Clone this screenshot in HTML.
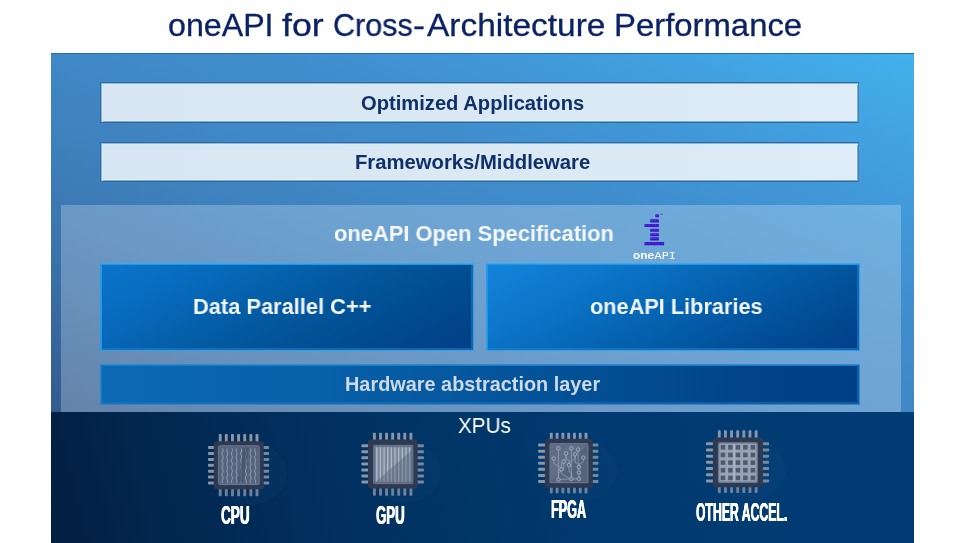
<!DOCTYPE html>
<html lang="en"><head><meta charset="utf-8"><title>oneAPI for Cross-Architecture Performance</title>
<style>
html,body{margin:0;padding:0;background:#fff;}
body{width:965px;height:543px;overflow:hidden;position:relative;font-family:"Liberation Sans",sans-serif;}
.t{position:absolute;white-space:nowrap;line-height:1;transform-origin:0 0;display:block;will-change:transform;}
.abs{position:absolute;box-sizing:border-box;}
.panel{left:51px;top:53px;width:863px;height:359px;
 background:linear-gradient(to top right,#335b8f 0%,#396ea6 18%,#3e7fbb 36%,#4088c6 50%,#408dcc 62%,#4197d7 75%,#42a4e3 88%,#42b1ec 100%);
 border-top:1px solid #1f6fb5;}
.lbox{left:100px;width:759px;height:41px;background:linear-gradient(90deg,#d7e6f2 0%,#dbe9f4 60%,#ddecf7 100%);
 border:1px solid #2f6aa3;border-right-color:#4a80b8;box-shadow:inset 1px 1px 0 #8fb6d8, inset 2px 2px 0 #d6effd, inset -1px -1px 0 #7fa8d0, inset -2px -2px 0 #e2f3fe;}
.spec{left:61.3px;top:204.5px;width:839.5px;height:207.2px;background:rgba(255,255,255,0.245);}
.dark{left:51px;top:411.6px;width:863px;height:131.4px;
 background:linear-gradient(76deg,#021f40 0%,#02244a 8%,#022a55 20%,#01305f 33%,#013567 46%,#00396e 60%,#003b72 78%,#003c74 100%);}
.bbox{top:263px;height:88px;border:1px solid;border-color:#3aaaf0 #3a9ddc #3a9ddc #2a9ae6;
 box-shadow:inset 1px 1px 0 #2197e6, inset -2px -2px 0 rgba(30,130,210,0.55);}
.dpc{left:100px;width:374px;background:linear-gradient(152deg,#0b75cb 0%,#0769ba 25%,#03599f 50%,#014b90 75%,#003f86 100%);}
.lib{left:486px;width:374px;background:linear-gradient(152deg,#1384db 0%,#0c76ca 25%,#0563b1 50%,#025099 75%,#003f88 100%);}
.hal{left:100px;top:364px;width:760px;height:41px;border:1px solid;border-color:#2b8cd6 #3585c8 #3d82ba #2586d0;
 box-shadow:inset 1px 1px 0 #1a7cc6, inset -2px -2px 0 rgba(30,120,200,0.5);
 background:linear-gradient(95deg,#0c69b3 0%,#0860a8 30%,#045197 60%,#014488 85%,#003f84 100%);}
</style></head><body>

<h1 style="margin:0;font-size:0">
<span class="t title" style="left:168.48px;top:9.70px;font-size:31.5px;font-weight:400;color:#0b2265;font-family:'Liberation Sans', sans-serif;transform:scaleX(1.0213);-webkit-text-stroke:0.3px #0b2265;">oneAPI</span>
<span class="t title" style="left:282.40px;top:9.70px;font-size:31.5px;font-weight:400;color:#0b2265;font-family:'Liberation Sans', sans-serif;transform:scaleX(1.1332);-webkit-text-stroke:0.3px #0b2265;">for</span>
<span class="t title" style="left:332.73px;top:9.70px;font-size:31.5px;font-weight:400;color:#0b2265;font-family:'Liberation Sans', sans-serif;transform:scaleX(0.9689);-webkit-text-stroke:0.3px #0b2265;">Cross</span>
<span class="t title" style="left:412.86px;top:9.70px;font-size:31.5px;font-weight:400;color:#0b2265;font-family:'Liberation Sans', sans-serif;transform:scaleX(1.1444);-webkit-text-stroke:0.3px #0b2265;">-</span>
<span class="t title" style="left:426.70px;top:9.70px;font-size:31.5px;font-weight:400;color:#0b2265;font-family:'Liberation Sans', sans-serif;transform:scaleX(1.0618);-webkit-text-stroke:0.3px #0b2265;">Architecture</span>
<span class="t title" style="left:613.91px;top:9.70px;font-size:31.5px;font-weight:400;color:#0b2265;font-family:'Liberation Sans', sans-serif;transform:scaleX(1.0433);-webkit-text-stroke:0.3px #0b2265;">Performance</span>
</h1>
<div class="abs panel"></div>
<div class="abs lbox" style="top:82px"></div>
<div class="abs lbox" style="top:142px;height:40px"></div>
<span class="t l1" style="left:360.70px;top:93.60px;font-size:19.5px;font-weight:700;color:#0f3068;font-family:'Liberation Sans', sans-serif;transform:scaleX(1.0335);">Optimized Applications</span>
<span class="t l2" style="left:354.75px;top:152.80px;font-size:19.3px;font-weight:700;color:#0f3068;font-family:'Liberation Sans', sans-serif;transform:scaleX(1.0505);">Frameworks/Middleware</span>
<div class="abs spec"></div>
<span class="t l3" style="left:334.30px;top:223.40px;font-size:22.2px;font-weight:700;color:#f4f8fc;font-family:'Liberation Sans', sans-serif;transform:scaleX(0.9869);">oneAPI Open Specification</span>
<div class="abs bbox dpc"></div>
<div class="abs bbox lib"></div>
<span class="t l4" style="left:193.02px;top:296.20px;font-size:22.3px;font-weight:700;color:#f2f6fa;font-family:'Liberation Sans', sans-serif;transform:scaleX(0.9792);">Data Parallel C++</span>
<span class="t l5" style="left:590.00px;top:296.00px;font-size:22.3px;font-weight:700;color:#f2f6fa;font-family:'Liberation Sans', sans-serif;transform:scaleX(0.9740);">oneAPI Libraries</span>
<div class="abs hal"></div>
<span class="t l6" style="left:344.97px;top:374.50px;font-size:19.3px;font-weight:700;color:#cdd9e6;font-family:'Liberation Sans', sans-serif;transform:scaleX(1.0306);">Hardware abstraction layer</span>
<div class="abs dark"></div>
<span class="t l7" style="left:457.80px;top:415.70px;font-size:21.5px;font-weight:400;color:#fff;font-family:'Liberation Sans', sans-serif;transform:scaleX(0.9611);">XPUs</span>
<svg class="abs" style="left:0;top:0" width="965" height="543" viewBox="0 0 965 543">
<rect x="655.3" y="214.15" width="3.6" height="3.1" rx="0.5" fill="#3c16c8"/>
<path d="M656.1 215.20 H658.4" stroke="#6a4cf0" stroke-width="0.9" stroke-dasharray="1.6 1.6" opacity="0.8"/>
<rect x="650.2" y="219.35" width="8.7" height="3.1" rx="0.5" fill="#3c16c8"/>
<path d="M651.0 220.40 H658.4" stroke="#6a4cf0" stroke-width="0.9" stroke-dasharray="1.6 1.6" opacity="0.8"/>
<rect x="644.5" y="223.95" width="14.4" height="3.1" rx="0.5" fill="#3c16c8"/>
<path d="M645.3 225.00 H658.4" stroke="#6a4cf0" stroke-width="0.9" stroke-dasharray="1.6 1.6" opacity="0.8"/>
<rect x="650.2" y="228.65" width="8.7" height="3.1" rx="0.5" fill="#3c16c8"/>
<path d="M651.0 229.70 H658.4" stroke="#6a4cf0" stroke-width="0.9" stroke-dasharray="1.6 1.6" opacity="0.8"/>
<rect x="650.2" y="233.25" width="8.7" height="3.1" rx="0.5" fill="#3c16c8"/>
<path d="M651.0 234.30 H658.4" stroke="#6a4cf0" stroke-width="0.9" stroke-dasharray="1.6 1.6" opacity="0.8"/>
<rect x="650.2" y="237.35" width="8.7" height="3.1" rx="0.5" fill="#3c16c8"/>
<path d="M651.0 238.40 H658.4" stroke="#6a4cf0" stroke-width="0.9" stroke-dasharray="1.6 1.6" opacity="0.8"/>
<rect x="644.5" y="242.05" width="19.6" height="3.1" rx="0.5" fill="#3c16c8"/>
<path d="M645.3 243.10 H663.6" stroke="#6a4cf0" stroke-width="0.9" stroke-dasharray="1.6 1.6" opacity="0.8"/>
<path d="M660.5 214.3 h2.2" stroke="#3c16c8" stroke-width="0.7"/>
<ellipse cx="250.8" cy="473.3" rx="36" ry="31" fill="#2a5a8e" opacity="0.10"/>
<rect x="218.75" y="434.00" width="2.9" height="9.3" rx="0.8" fill="#8c95a5"/>
<rect x="218.75" y="487.30" width="2.9" height="8.9" rx="0.8" fill="#8c95a5" opacity="0.8"/>
<rect x="224.88" y="434.00" width="2.9" height="9.3" rx="0.8" fill="#8c95a5"/>
<rect x="224.88" y="487.30" width="2.9" height="8.9" rx="0.8" fill="#8c95a5" opacity="0.8"/>
<rect x="231.02" y="434.00" width="2.9" height="9.3" rx="0.8" fill="#8c95a5"/>
<rect x="231.02" y="487.30" width="2.9" height="8.9" rx="0.8" fill="#8c95a5" opacity="0.8"/>
<rect x="237.15" y="434.00" width="2.9" height="9.3" rx="0.8" fill="#8c95a5"/>
<rect x="237.15" y="487.30" width="2.9" height="8.9" rx="0.8" fill="#8c95a5" opacity="0.8"/>
<rect x="243.28" y="434.00" width="2.9" height="9.3" rx="0.8" fill="#8c95a5"/>
<rect x="243.28" y="487.30" width="2.9" height="8.9" rx="0.8" fill="#8c95a5" opacity="0.8"/>
<rect x="249.42" y="434.00" width="2.9" height="9.3" rx="0.8" fill="#8c95a5"/>
<rect x="249.42" y="487.30" width="2.9" height="8.9" rx="0.8" fill="#8c95a5" opacity="0.8"/>
<rect x="255.55" y="434.00" width="2.9" height="9.3" rx="0.8" fill="#8c95a5"/>
<rect x="255.55" y="487.30" width="2.9" height="8.9" rx="0.8" fill="#8c95a5" opacity="0.8"/>
<rect x="208.00" y="446.10" width="7.8" height="3" rx="0.8" fill="#8c95a5"/>
<rect x="261.80" y="446.10" width="7.4" height="3" rx="0.8" fill="#8c95a5" opacity="0.85"/>
<rect x="208.00" y="452.00" width="7.8" height="3" rx="0.8" fill="#8c95a5"/>
<rect x="261.80" y="452.00" width="7.4" height="3" rx="0.8" fill="#8c95a5" opacity="0.85"/>
<rect x="208.00" y="457.90" width="7.8" height="3" rx="0.8" fill="#8c95a5"/>
<rect x="261.80" y="457.90" width="7.4" height="3" rx="0.8" fill="#8c95a5" opacity="0.85"/>
<rect x="208.00" y="463.80" width="7.8" height="3" rx="0.8" fill="#8c95a5"/>
<rect x="261.80" y="463.80" width="7.4" height="3" rx="0.8" fill="#8c95a5" opacity="0.85"/>
<rect x="208.00" y="469.70" width="7.8" height="3" rx="0.8" fill="#8c95a5"/>
<rect x="261.80" y="469.70" width="7.4" height="3" rx="0.8" fill="#8c95a5" opacity="0.85"/>
<rect x="208.00" y="475.60" width="7.8" height="3" rx="0.8" fill="#8c95a5"/>
<rect x="261.80" y="475.60" width="7.4" height="3" rx="0.8" fill="#8c95a5" opacity="0.85"/>
<rect x="208.00" y="481.50" width="7.8" height="3" rx="0.8" fill="#8c95a5"/>
<rect x="261.80" y="481.50" width="7.4" height="3" rx="0.8" fill="#8c95a5" opacity="0.85"/>
<rect x="213.80" y="441.30" width="50" height="48" rx="2.5" fill="#2e3a51"/>
<rect x="218.60" y="445.80" width="40.60" height="38.70" rx="0.8" fill="#55637c" stroke="#6f7e97" stroke-width="0.9"/>
<path d="M222.60 448.30 q1.2 1.75 0 3.5 q-1.2 1.75 0 3.5 q1.2 1.75 0 3.5 q-1.2 1.75 0 3.5 q1.2 1.75 0 3.5 q-1.2 1.75 0 3.5 q1.2 1.75 0 3.5 q-1.2 1.75 0 3.5 q1.2 1.75 0 3.5 q-1.2 1.75 0 3.5" fill="none" stroke="#a9b4c5" stroke-width="0.9" opacity="0.8"/>
<path d="M227.26 448.30 q-1.2 1.75 0 3.5 q1.2 1.75 0 3.5 q-1.2 1.75 0 3.5 q1.2 1.75 0 3.5 q-1.2 1.75 0 3.5 q1.2 1.75 0 3.5 q-1.2 1.75 0 3.5 q1.2 1.75 0 3.5 q-1.2 1.75 0 3.5 q1.2 1.75 0 3.5" fill="none" stroke="#a9b4c5" stroke-width="0.9" opacity="0.8"/>
<path d="M231.91 448.30 q1.2 1.75 0 3.5 q-1.2 1.75 0 3.5 q1.2 1.75 0 3.5 q-1.2 1.75 0 3.5 q1.2 1.75 0 3.5 q-1.2 1.75 0 3.5 q1.2 1.75 0 3.5 q-1.2 1.75 0 3.5 q1.2 1.75 0 3.5 q-1.2 1.75 0 3.5" fill="none" stroke="#a9b4c5" stroke-width="0.9" opacity="0.8"/>
<path d="M236.57 448.30 q-1.2 1.75 0 3.5 q1.2 1.75 0 3.5 q-1.2 1.75 0 3.5 q1.2 1.75 0 3.5 q-1.2 1.75 0 3.5 q1.2 1.75 0 3.5 q-1.2 1.75 0 3.5 q1.2 1.75 0 3.5 q-1.2 1.75 0 3.5 q1.2 1.75 0 3.5" fill="none" stroke="#a9b4c5" stroke-width="0.9" opacity="0.8"/>
<path d="M241.23 448.30 q1.2 1.75 0 3.5 q-1.2 1.75 0 3.5 q1.2 1.75 0 3.5 q-1.2 1.75 0 3.5 q1.2 1.75 0 3.5 q-1.2 1.75 0 3.5 q1.2 1.75 0 3.5 q-1.2 1.75 0 3.5 q1.2 1.75 0 3.5 q-1.2 1.75 0 3.5" fill="none" stroke="#a9b4c5" stroke-width="0.9" opacity="0.8"/>
<path d="M245.89 448.30 q-1.2 1.75 0 3.5 q1.2 1.75 0 3.5 q-1.2 1.75 0 3.5 q1.2 1.75 0 3.5 q-1.2 1.75 0 3.5 q1.2 1.75 0 3.5 q-1.2 1.75 0 3.5 q1.2 1.75 0 3.5 q-1.2 1.75 0 3.5 q1.2 1.75 0 3.5" fill="none" stroke="#a9b4c5" stroke-width="0.9" opacity="0.8"/>
<path d="M250.54 448.30 q1.2 1.75 0 3.5 q-1.2 1.75 0 3.5 q1.2 1.75 0 3.5 q-1.2 1.75 0 3.5 q1.2 1.75 0 3.5 q-1.2 1.75 0 3.5 q1.2 1.75 0 3.5 q-1.2 1.75 0 3.5 q1.2 1.75 0 3.5 q-1.2 1.75 0 3.5" fill="none" stroke="#a9b4c5" stroke-width="0.9" opacity="0.8"/>
<path d="M255.20 448.30 q-1.2 1.75 0 3.5 q1.2 1.75 0 3.5 q-1.2 1.75 0 3.5 q1.2 1.75 0 3.5 q-1.2 1.75 0 3.5 q1.2 1.75 0 3.5 q-1.2 1.75 0 3.5 q1.2 1.75 0 3.5 q-1.2 1.75 0 3.5 q1.2 1.75 0 3.5" fill="none" stroke="#a9b4c5" stroke-width="0.9" opacity="0.8"/>
<path d="M243.77 447.80 L248.64 447.80 L242.96 482.50 L238.09 482.50 Z" fill="#3b4860" opacity="0.5"/>
<ellipse cx="404.9" cy="471.9" rx="36" ry="31" fill="#2a5a8e" opacity="0.10"/>
<rect x="372.95" y="432.80" width="2.9" height="8.6" rx="0.8" fill="#8c95a5"/>
<rect x="372.95" y="486.40" width="2.9" height="9.3" rx="0.8" fill="#8c95a5" opacity="0.8"/>
<rect x="379.03" y="432.80" width="2.9" height="8.6" rx="0.8" fill="#8c95a5"/>
<rect x="379.03" y="486.40" width="2.9" height="9.3" rx="0.8" fill="#8c95a5" opacity="0.8"/>
<rect x="385.12" y="432.80" width="2.9" height="8.6" rx="0.8" fill="#8c95a5"/>
<rect x="385.12" y="486.40" width="2.9" height="9.3" rx="0.8" fill="#8c95a5" opacity="0.8"/>
<rect x="391.20" y="432.80" width="2.9" height="8.6" rx="0.8" fill="#8c95a5"/>
<rect x="391.20" y="486.40" width="2.9" height="9.3" rx="0.8" fill="#8c95a5" opacity="0.8"/>
<rect x="397.28" y="432.80" width="2.9" height="8.6" rx="0.8" fill="#8c95a5"/>
<rect x="397.28" y="486.40" width="2.9" height="9.3" rx="0.8" fill="#8c95a5" opacity="0.8"/>
<rect x="403.37" y="432.80" width="2.9" height="8.6" rx="0.8" fill="#8c95a5"/>
<rect x="403.37" y="486.40" width="2.9" height="9.3" rx="0.8" fill="#8c95a5" opacity="0.8"/>
<rect x="409.45" y="432.80" width="2.9" height="8.6" rx="0.8" fill="#8c95a5"/>
<rect x="409.45" y="486.40" width="2.9" height="9.3" rx="0.8" fill="#8c95a5" opacity="0.8"/>
<rect x="361.40" y="444.20" width="8.6" height="3" rx="0.8" fill="#8c95a5"/>
<rect x="415.70" y="444.20" width="8.2" height="3" rx="0.8" fill="#8c95a5" opacity="0.85"/>
<rect x="361.40" y="450.27" width="8.6" height="3" rx="0.8" fill="#8c95a5"/>
<rect x="415.70" y="450.27" width="8.2" height="3" rx="0.8" fill="#8c95a5" opacity="0.85"/>
<rect x="361.40" y="456.33" width="8.6" height="3" rx="0.8" fill="#8c95a5"/>
<rect x="415.70" y="456.33" width="8.2" height="3" rx="0.8" fill="#8c95a5" opacity="0.85"/>
<rect x="361.40" y="462.40" width="8.6" height="3" rx="0.8" fill="#8c95a5"/>
<rect x="415.70" y="462.40" width="8.2" height="3" rx="0.8" fill="#8c95a5" opacity="0.85"/>
<rect x="361.40" y="468.47" width="8.6" height="3" rx="0.8" fill="#8c95a5"/>
<rect x="415.70" y="468.47" width="8.2" height="3" rx="0.8" fill="#8c95a5" opacity="0.85"/>
<rect x="361.40" y="474.53" width="8.6" height="3" rx="0.8" fill="#8c95a5"/>
<rect x="415.70" y="474.53" width="8.2" height="3" rx="0.8" fill="#8c95a5" opacity="0.85"/>
<rect x="361.40" y="480.60" width="8.6" height="3" rx="0.8" fill="#8c95a5"/>
<rect x="415.70" y="480.60" width="8.2" height="3" rx="0.8" fill="#8c95a5" opacity="0.85"/>
<rect x="368.00" y="439.40" width="49.7" height="49" rx="2.5" fill="#2e3a51"/>
<rect x="373.60" y="445.40" width="39.20" height="38.20" rx="0.8" fill="#55637c" stroke="#6f7e97" stroke-width="0.9"/>
<rect x="374.80" y="446.60" width="36.80" height="35.80" fill="#7a8799"/>
<rect x="376.10" y="447.40" width="1.4" height="34.20" fill="#b4bdcb" opacity="0.9"/>
<rect x="379.74" y="447.40" width="1.4" height="34.20" fill="#b4bdcb" opacity="0.9"/>
<rect x="383.39" y="447.40" width="1.4" height="34.20" fill="#b4bdcb" opacity="0.9"/>
<rect x="387.03" y="447.40" width="1.4" height="34.20" fill="#b4bdcb" opacity="0.9"/>
<rect x="390.68" y="447.40" width="1.4" height="34.20" fill="#b4bdcb" opacity="0.9"/>
<rect x="394.32" y="447.40" width="1.4" height="34.20" fill="#b4bdcb" opacity="0.9"/>
<rect x="397.97" y="447.40" width="1.4" height="34.20" fill="#b4bdcb" opacity="0.9"/>
<rect x="401.61" y="447.40" width="1.4" height="34.20" fill="#b4bdcb" opacity="0.9"/>
<rect x="405.26" y="447.40" width="1.4" height="34.20" fill="#b4bdcb" opacity="0.9"/>
<rect x="408.90" y="447.40" width="1.4" height="34.20" fill="#b4bdcb" opacity="0.9"/>
<path d="M374.80 482.40 L411.60 450.40 L411.60 482.40 Z" fill="#4d5a70" opacity="0.38"/>
<ellipse cx="580.9" cy="471.3" rx="36" ry="31" fill="#2a5a8e" opacity="0.10"/>
<rect x="549.85" y="432.80" width="2.9" height="8" rx="0.8" fill="#8c95a5"/>
<rect x="549.85" y="485.80" width="2.9" height="7.6" rx="0.8" fill="#8c95a5" opacity="0.8"/>
<rect x="555.63" y="432.80" width="2.9" height="8" rx="0.8" fill="#8c95a5"/>
<rect x="555.63" y="485.80" width="2.9" height="7.6" rx="0.8" fill="#8c95a5" opacity="0.8"/>
<rect x="561.42" y="432.80" width="2.9" height="8" rx="0.8" fill="#8c95a5"/>
<rect x="561.42" y="485.80" width="2.9" height="7.6" rx="0.8" fill="#8c95a5" opacity="0.8"/>
<rect x="567.20" y="432.80" width="2.9" height="8" rx="0.8" fill="#8c95a5"/>
<rect x="567.20" y="485.80" width="2.9" height="7.6" rx="0.8" fill="#8c95a5" opacity="0.8"/>
<rect x="572.98" y="432.80" width="2.9" height="8" rx="0.8" fill="#8c95a5"/>
<rect x="572.98" y="485.80" width="2.9" height="7.6" rx="0.8" fill="#8c95a5" opacity="0.8"/>
<rect x="578.77" y="432.80" width="2.9" height="8" rx="0.8" fill="#8c95a5"/>
<rect x="578.77" y="485.80" width="2.9" height="7.6" rx="0.8" fill="#8c95a5" opacity="0.8"/>
<rect x="584.55" y="432.80" width="2.9" height="8" rx="0.8" fill="#8c95a5"/>
<rect x="584.55" y="485.80" width="2.9" height="7.6" rx="0.8" fill="#8c95a5" opacity="0.8"/>
<rect x="538.10" y="443.60" width="8.8" height="3" rx="0.8" fill="#8c95a5"/>
<rect x="590.80" y="443.60" width="7.6" height="3" rx="0.8" fill="#8c95a5" opacity="0.85"/>
<rect x="538.10" y="449.67" width="8.8" height="3" rx="0.8" fill="#8c95a5"/>
<rect x="590.80" y="449.67" width="7.6" height="3" rx="0.8" fill="#8c95a5" opacity="0.85"/>
<rect x="538.10" y="455.73" width="8.8" height="3" rx="0.8" fill="#8c95a5"/>
<rect x="590.80" y="455.73" width="7.6" height="3" rx="0.8" fill="#8c95a5" opacity="0.85"/>
<rect x="538.10" y="461.80" width="8.8" height="3" rx="0.8" fill="#8c95a5"/>
<rect x="590.80" y="461.80" width="7.6" height="3" rx="0.8" fill="#8c95a5" opacity="0.85"/>
<rect x="538.10" y="467.87" width="8.8" height="3" rx="0.8" fill="#8c95a5"/>
<rect x="590.80" y="467.87" width="7.6" height="3" rx="0.8" fill="#8c95a5" opacity="0.85"/>
<rect x="538.10" y="473.93" width="8.8" height="3" rx="0.8" fill="#8c95a5"/>
<rect x="590.80" y="473.93" width="7.6" height="3" rx="0.8" fill="#8c95a5" opacity="0.85"/>
<rect x="538.10" y="480.00" width="8.8" height="3" rx="0.8" fill="#8c95a5"/>
<rect x="590.80" y="480.00" width="7.6" height="3" rx="0.8" fill="#8c95a5" opacity="0.85"/>
<rect x="544.90" y="438.80" width="47.9" height="49" rx="2.5" fill="#2e3a51"/>
<rect x="550.00" y="443.60" width="38.00" height="39.10" rx="0.8" fill="#55637c" stroke="#6f7e97" stroke-width="0.9"/>
<path d="M550.60 444.20 H587.40 L550.60 482.10 Z" fill="#7e8ba2" opacity="0.25"/>
<path d="M558.4 448.3 L558.4 462.4 L558.4 462.4 L558.4 479.6" fill="none" stroke="#a3aec0" stroke-width="0.8" opacity="0.75"/>
<path d="M571.3 448.3 L571.3 462.0 L571.3 462.0 L571.3 478.8" fill="none" stroke="#a3aec0" stroke-width="0.8" opacity="0.75"/>
<path d="M578.1 449.5 L578.1 462.7 L578.9 463.1 L578.9 478.8" fill="none" stroke="#a3aec0" stroke-width="0.8" opacity="0.75"/>
<path d="M553.8 458.5 L553.8 463.4 L561.4 467.9 L561.4 469.4" fill="none" stroke="#a3aec0" stroke-width="0.8" opacity="0.75"/>
<path d="M583.4 457.7 L583.4 461.9 L578.9 464.6 L578.9 467.1" fill="none" stroke="#a3aec0" stroke-width="0.8" opacity="0.75"/>
<path d="M566.0 453.4 L566.0 458.7 L569.0 460.5 L569.0 465.1" fill="none" stroke="#a3aec0" stroke-width="0.8" opacity="0.75"/>
<path d="M575.1 454.2 L575.1 462.4 L578.9 464.7 L578.9 472.5" fill="none" stroke="#a3aec0" stroke-width="0.8" opacity="0.75"/>
<path d="M569.0 465.1 L569.0 471.3 L571.3 472.6 L571.3 478.8" fill="none" stroke="#a3aec0" stroke-width="0.8" opacity="0.75"/>
<path d="M563.7 461.6 L563.7 469.7 L558.4 472.9 L558.4 479.6" fill="none" stroke="#a3aec0" stroke-width="0.8" opacity="0.75"/>
<path d="M561.4 469.4 L561.4 473.6 L571.3 479.6 L571.3 478.8" fill="none" stroke="#a3aec0" stroke-width="0.8" opacity="0.75"/>
<path d="M566.0 453.4 L566.0 460.6 L561.4 463.3 L561.4 469.4" fill="none" stroke="#a3aec0" stroke-width="0.8" opacity="0.75"/>
<path d="M575.1 454.2 L575.1 459.1 L569.0 462.7 L569.0 465.1" fill="none" stroke="#a3aec0" stroke-width="0.8" opacity="0.75"/>
<path d="M558.4 479.6 L571.3 478.8" fill="none" stroke="#a3aec0" stroke-width="0.8" opacity="0.75"/>
<path d="M571.3 478.8 L578.9 478.8" fill="none" stroke="#a3aec0" stroke-width="0.8" opacity="0.75"/>
<circle cx="558.4" cy="448.3" r="1.8" fill="#606f88" stroke="#a9b4c5" stroke-width="0.8"/>
<circle cx="571.3" cy="448.3" r="1.8" fill="#606f88" stroke="#a9b4c5" stroke-width="0.8"/>
<circle cx="578.1" cy="449.5" r="1.8" fill="#606f88" stroke="#a9b4c5" stroke-width="0.8"/>
<circle cx="553.8" cy="458.5" r="1.8" fill="#606f88" stroke="#a9b4c5" stroke-width="0.8"/>
<circle cx="583.4" cy="457.7" r="1.8" fill="#606f88" stroke="#a9b4c5" stroke-width="0.8"/>
<circle cx="566.0" cy="453.4" r="1.8" fill="#606f88" stroke="#a9b4c5" stroke-width="0.8"/>
<circle cx="575.1" cy="454.2" r="1.8" fill="#606f88" stroke="#a9b4c5" stroke-width="0.8"/>
<circle cx="578.9" cy="467.1" r="1.8" fill="#606f88" stroke="#a9b4c5" stroke-width="0.8"/>
<circle cx="578.9" cy="472.5" r="1.8" fill="#606f88" stroke="#a9b4c5" stroke-width="0.8"/>
<circle cx="578.9" cy="478.8" r="1.8" fill="#606f88" stroke="#a9b4c5" stroke-width="0.8"/>
<circle cx="571.3" cy="478.8" r="1.8" fill="#606f88" stroke="#a9b4c5" stroke-width="0.8"/>
<circle cx="558.4" cy="479.6" r="1.8" fill="#606f88" stroke="#a9b4c5" stroke-width="0.8"/>
<circle cx="561.4" cy="469.4" r="1.8" fill="#606f88" stroke="#a9b4c5" stroke-width="0.8"/>
<circle cx="569.0" cy="465.1" r="1.8" fill="#606f88" stroke="#a9b4c5" stroke-width="0.8"/>
<circle cx="563.7" cy="461.6" r="1.8" fill="#606f88" stroke="#a9b4c5" stroke-width="0.8"/>
<ellipse cx="749.9" cy="470.4" rx="36" ry="31" fill="#2a5a8e" opacity="0.10"/>
<rect x="717.85" y="430.30" width="2.9" height="9.2" rx="0.8" fill="#8c95a5"/>
<rect x="717.85" y="485.20" width="2.9" height="7.9" rx="0.8" fill="#8c95a5" opacity="0.8"/>
<rect x="723.98" y="430.30" width="2.9" height="9.2" rx="0.8" fill="#8c95a5"/>
<rect x="723.98" y="485.20" width="2.9" height="7.9" rx="0.8" fill="#8c95a5" opacity="0.8"/>
<rect x="730.12" y="430.30" width="2.9" height="9.2" rx="0.8" fill="#8c95a5"/>
<rect x="730.12" y="485.20" width="2.9" height="7.9" rx="0.8" fill="#8c95a5" opacity="0.8"/>
<rect x="736.25" y="430.30" width="2.9" height="9.2" rx="0.8" fill="#8c95a5"/>
<rect x="736.25" y="485.20" width="2.9" height="7.9" rx="0.8" fill="#8c95a5" opacity="0.8"/>
<rect x="742.38" y="430.30" width="2.9" height="9.2" rx="0.8" fill="#8c95a5"/>
<rect x="742.38" y="485.20" width="2.9" height="7.9" rx="0.8" fill="#8c95a5" opacity="0.8"/>
<rect x="748.52" y="430.30" width="2.9" height="9.2" rx="0.8" fill="#8c95a5"/>
<rect x="748.52" y="485.20" width="2.9" height="7.9" rx="0.8" fill="#8c95a5" opacity="0.8"/>
<rect x="754.65" y="430.30" width="2.9" height="9.2" rx="0.8" fill="#8c95a5"/>
<rect x="754.65" y="485.20" width="2.9" height="7.9" rx="0.8" fill="#8c95a5" opacity="0.8"/>
<rect x="706.00" y="442.30" width="8.9" height="3" rx="0.8" fill="#8c95a5"/>
<rect x="760.90" y="442.30" width="8.2" height="3" rx="0.8" fill="#8c95a5" opacity="0.85"/>
<rect x="706.00" y="448.48" width="8.9" height="3" rx="0.8" fill="#8c95a5"/>
<rect x="760.90" y="448.48" width="8.2" height="3" rx="0.8" fill="#8c95a5" opacity="0.85"/>
<rect x="706.00" y="454.67" width="8.9" height="3" rx="0.8" fill="#8c95a5"/>
<rect x="760.90" y="454.67" width="8.2" height="3" rx="0.8" fill="#8c95a5" opacity="0.85"/>
<rect x="706.00" y="460.85" width="8.9" height="3" rx="0.8" fill="#8c95a5"/>
<rect x="760.90" y="460.85" width="8.2" height="3" rx="0.8" fill="#8c95a5" opacity="0.85"/>
<rect x="706.00" y="467.03" width="8.9" height="3" rx="0.8" fill="#8c95a5"/>
<rect x="760.90" y="467.03" width="8.2" height="3" rx="0.8" fill="#8c95a5" opacity="0.85"/>
<rect x="706.00" y="473.22" width="8.9" height="3" rx="0.8" fill="#8c95a5"/>
<rect x="760.90" y="473.22" width="8.2" height="3" rx="0.8" fill="#8c95a5" opacity="0.85"/>
<rect x="706.00" y="479.40" width="8.9" height="3" rx="0.8" fill="#8c95a5"/>
<rect x="760.90" y="479.40" width="8.2" height="3" rx="0.8" fill="#8c95a5" opacity="0.85"/>
<rect x="712.90" y="437.50" width="50" height="49.7" rx="2.5" fill="#2e3a51"/>
<rect x="718.40" y="442.70" width="39.00" height="39.80" rx="0.8" fill="#55637c" stroke="#6f7e97" stroke-width="0.9"/>
<rect x="719.20" y="443.50" width="37.40" height="38.20" fill="#98a3b4"/>
<rect x="720.70" y="445.03" width="4.49" height="4.58" fill="#4d5a72"/>
<rect x="728.18" y="445.03" width="4.49" height="4.58" fill="#4d5a72"/>
<rect x="735.66" y="445.03" width="4.49" height="4.58" fill="#4d5a72"/>
<rect x="743.14" y="445.03" width="4.49" height="4.58" fill="#4d5a72"/>
<rect x="750.62" y="445.03" width="4.49" height="4.58" fill="#4d5a72"/>
<rect x="720.70" y="452.67" width="4.49" height="4.58" fill="#4d5a72"/>
<rect x="728.18" y="452.67" width="4.49" height="4.58" fill="#4d5a72"/>
<rect x="735.66" y="452.67" width="4.49" height="4.58" fill="#4d5a72"/>
<rect x="743.14" y="452.67" width="4.49" height="4.58" fill="#4d5a72"/>
<rect x="750.62" y="452.67" width="4.49" height="4.58" fill="#4d5a72"/>
<rect x="720.70" y="460.31" width="4.49" height="4.58" fill="#4d5a72"/>
<rect x="728.18" y="460.31" width="4.49" height="4.58" fill="#4d5a72"/>
<rect x="735.66" y="460.31" width="4.49" height="4.58" fill="#4d5a72"/>
<rect x="743.14" y="460.31" width="4.49" height="4.58" fill="#4d5a72"/>
<rect x="750.62" y="460.31" width="4.49" height="4.58" fill="#4d5a72"/>
<rect x="720.70" y="467.95" width="4.49" height="4.58" fill="#4d5a72"/>
<rect x="728.18" y="467.95" width="4.49" height="4.58" fill="#4d5a72"/>
<rect x="735.66" y="467.95" width="4.49" height="4.58" fill="#4d5a72"/>
<rect x="743.14" y="467.95" width="4.49" height="4.58" fill="#4d5a72"/>
<rect x="750.62" y="467.95" width="4.49" height="4.58" fill="#4d5a72"/>
<rect x="720.70" y="475.59" width="4.49" height="4.58" fill="#4d5a72"/>
<rect x="728.18" y="475.59" width="4.49" height="4.58" fill="#4d5a72"/>
<rect x="735.66" y="475.59" width="4.49" height="4.58" fill="#4d5a72"/>
<rect x="743.14" y="475.59" width="4.49" height="4.58" fill="#4d5a72"/>
<rect x="750.62" y="475.59" width="4.49" height="4.58" fill="#4d5a72"/>
<path d="M734.16 443.70 v37.80" stroke="#c3cbd7" stroke-width="0.7"/>
</svg>
<span class="t c1" style="left:221.09px;top:502.00px;font-size:26.4px;font-weight:700;color:#fff;font-family:'Liberation Sans', sans-serif;transform:scaleX(0.5143);text-shadow:0.8px 0 0 #fff,-0.8px 0 0 #fff;">CPU</span>
<span class="t c2" style="left:376.40px;top:502.00px;font-size:26.4px;font-weight:700;color:#fff;font-family:'Liberation Sans', sans-serif;transform:scaleX(0.5006);text-shadow:0.8px 0 0 #fff,-0.8px 0 0 #fff;">GPU</span>
<span class="t c3" style="left:551.12px;top:496.00px;font-size:26.4px;font-weight:700;color:#fff;font-family:'Liberation Sans', sans-serif;transform:scaleX(0.4789);text-shadow:0.8px 0 0 #fff,-0.8px 0 0 #fff;">FPGA</span>
<span class="t c4" style="left:696.14px;top:498.80px;font-size:26.4px;font-weight:700;color:#fff;font-family:'Liberation Sans', sans-serif;transform:scaleX(0.4632);text-shadow:0.8px 0 0 #fff,-0.8px 0 0 #fff;">OTHER ACCEL.</span>
<span class="t lg" style="left:632.80px;top:249.90px;font-size:11.6px;font-weight:400;color:#fff;font-family:'Liberation Mono', monospace;transform:scaleX(1.0297);"><b>one</b>API</span>
</body></html>
